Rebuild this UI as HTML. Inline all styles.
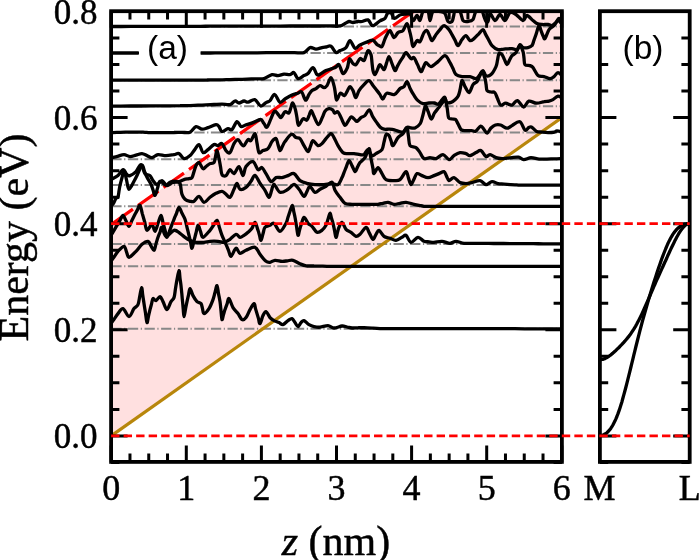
<!DOCTYPE html><html><head><meta charset="utf-8"><style>html,body{margin:0;padding:0;background:#fff;overflow:hidden}svg{display:block}</style></head><body><svg width="700" height="560" viewBox="0 0 700 560">
<rect width="700" height="560" fill="#fff"/>
<defs><clipPath id="ca"><rect x="111.1" y="11.2" width="450.79999999999995" height="450.7"/></clipPath><clipPath id="cb"><rect x="599.9" y="11.2" width="89.80000000000007" height="450.7"/></clipPath></defs>
<g clip-path="url(#ca)">
<polygon points="111.2,435.9 111.2,224.4 440.0,-7.4 570.0,-7.4 570.0,111.8" fill="#ffe0e0"/>
<line x1="111" y1="26.5" x2="562" y2="26.5" stroke="#888" stroke-width="2" stroke-dasharray="10.3,2.55,1.2,2.55" stroke-dashoffset="-0.3"/>
<line x1="111" y1="53.0" x2="562" y2="53.0" stroke="#888" stroke-width="2" stroke-dasharray="10.3,2.55,1.2,2.55" stroke-dashoffset="-0.3"/>
<line x1="111" y1="80.2" x2="562" y2="80.2" stroke="#888" stroke-width="2" stroke-dasharray="10.3,2.55,1.2,2.55" stroke-dashoffset="-0.3"/>
<line x1="111" y1="106.2" x2="562" y2="106.2" stroke="#888" stroke-width="2" stroke-dasharray="10.3,2.55,1.2,2.55" stroke-dashoffset="-0.3"/>
<line x1="111" y1="132.6" x2="562" y2="132.6" stroke="#888" stroke-width="2" stroke-dasharray="10.3,2.55,1.2,2.55" stroke-dashoffset="-0.3"/>
<line x1="111" y1="159.3" x2="562" y2="159.3" stroke="#888" stroke-width="2" stroke-dasharray="10.3,2.55,1.2,2.55" stroke-dashoffset="-0.3"/>
<line x1="111" y1="185.1" x2="562" y2="185.1" stroke="#888" stroke-width="2" stroke-dasharray="10.3,2.55,1.2,2.55" stroke-dashoffset="-0.3"/>
<line x1="111" y1="206.3" x2="562" y2="206.3" stroke="#888" stroke-width="2" stroke-dasharray="10.3,2.55,1.2,2.55" stroke-dashoffset="-0.3"/>
<line x1="111" y1="243.9" x2="562" y2="243.9" stroke="#888" stroke-width="2" stroke-dasharray="10.3,2.55,1.2,2.55" stroke-dashoffset="-0.3"/>
<line x1="111" y1="266.3" x2="562" y2="266.3" stroke="#888" stroke-width="2" stroke-dasharray="10.3,2.55,1.2,2.55" stroke-dashoffset="-0.3"/>
<line x1="111" y1="328.8" x2="562" y2="328.8" stroke="#888" stroke-width="2" stroke-dasharray="10.3,2.55,1.2,2.55" stroke-dashoffset="-0.3"/>
<line x1="111.2" y1="224.4" x2="440" y2="-7.40" stroke="#ff0000" stroke-width="3.2" stroke-dasharray="25,6.2" stroke-dashoffset="-1.6"/>
<line x1="111.2" y1="435.9" x2="565.555" y2="114.94749999999999" stroke="#b8860b" stroke-width="3.2"/>
<path d="M111.0,26.5C112.7,26.5 117.6,26.5 121.0,26.5C124.3,26.5 127.6,26.5 130.9,26.4C134.2,26.4 137.6,26.4 140.9,26.4C144.2,26.4 147.5,26.4 150.8,26.4C154.1,26.4 157.5,26.4 160.8,26.4C164.1,26.4 167.4,26.4 170.7,26.3C174.1,26.3 177.4,26.3 180.7,26.3C184.0,26.3 187.3,26.3 190.7,26.3C194.0,26.3 197.3,26.3 200.6,26.3C203.9,26.3 207.2,26.2 210.6,26.2C213.9,26.2 217.2,26.2 220.5,26.2C223.8,26.2 227.2,26.2 230.5,26.2C233.8,26.2 237.1,26.2 240.4,26.2C243.8,26.2 247.1,26.1 250.4,26.1C253.7,26.1 257.0,26.1 260.3,26.1C263.7,26.1 267.0,26.1 270.3,26.1C273.6,26.1 276.9,26.1 280.3,26.1C283.6,26.0 286.9,26.0 290.2,26.0C293.5,26.0 296.9,26.0 300.2,26.0C303.5,26.0 306.8,26.0 310.1,26.0C313.4,26.0 316.8,26.0 320.1,26.0C323.4,25.9 326.7,25.9 330.0,25.9C333.4,25.9 337.5,26.3 340.0,25.9C342.5,25.5 343.5,24.2 345.0,23.5C346.5,22.8 347.7,21.7 349.0,21.5C350.3,21.3 351.5,22.5 353.0,22.5C354.5,22.5 356.5,21.7 358.0,21.5C359.5,21.3 360.3,21.8 362.0,21.5C363.7,21.2 366.3,19.2 368.0,19.9C369.7,20.6 370.7,24.8 372.0,25.5C373.3,26.2 374.7,24.8 376.0,24.0C377.3,23.2 378.5,21.8 380.0,20.9C381.5,19.9 383.7,19.6 385.0,18.3C386.3,17.0 386.6,14.0 387.7,13.2C388.8,12.3 390.2,12.3 391.3,13.2C392.4,14.0 392.8,18.1 394.4,18.3C395.9,18.6 398.2,15.5 400.6,14.7C403.0,13.9 407.3,14.2 408.9,13.7C410.5,13.2 409.3,10.4 410.0,11.5C410.7,12.6 411.8,19.8 413.0,20.5C414.2,21.2 415.8,15.5 417.0,15.5C418.2,15.5 419.0,21.2 420.0,20.5C421.0,19.8 421.7,13.0 423.0,11.5C424.3,10.0 426.8,10.0 428.0,11.5C429.2,13.0 429.2,20.5 430.0,20.5C430.8,20.5 431.3,13.0 433.0,11.5C434.7,10.0 438.0,11.2 440.0,11.5C442.0,11.8 443.7,11.8 445.0,13.5C446.3,15.2 446.8,20.2 448.0,21.5C449.2,22.8 451.1,22.3 452.0,21.5C452.9,20.7 453.0,18.2 453.5,16.5C454.0,14.8 453.9,12.3 455.0,11.5C456.1,10.7 458.7,10.0 460.0,11.5C461.3,13.0 461.7,18.8 463.0,20.5C464.3,22.2 466.3,21.7 468.0,21.5C469.7,21.3 471.7,21.2 473.0,19.5C474.3,17.8 474.5,12.8 476.0,11.5C477.5,10.2 480.7,10.7 482.0,11.5C483.3,12.3 483.3,14.8 484.0,16.5C484.7,18.2 485.3,20.7 486.0,21.5C486.7,22.3 487.3,22.8 488.0,21.5C488.7,20.2 488.8,13.7 490.0,13.5C491.2,13.3 493.3,20.3 495.0,20.5C496.7,20.7 498.3,14.5 500.0,14.5C501.7,14.5 503.3,20.8 505.0,20.5C506.7,20.2 508.2,13.5 510.0,12.5C511.8,11.5 513.8,13.2 516.0,14.5C518.2,15.8 521.2,20.3 523.0,20.5C524.8,20.7 525.3,15.5 527.0,15.5C528.7,15.5 531.3,19.2 533.0,20.5C534.7,21.8 535.5,22.8 537.0,23.5C538.5,24.2 540.2,24.3 542.0,24.5C543.8,24.7 546.3,24.3 548.0,24.5C549.7,24.7 550.7,25.8 552.0,25.5C553.3,25.2 554.8,23.7 556.0,22.5C557.2,21.3 557.8,18.3 559.0,18.5C560.2,18.7 562.3,22.7 563.0,23.5" fill="none" stroke="#000" stroke-width="3.3" stroke-linejoin="round" stroke-linecap="round"/>
<path d="M111.0,53.0C112.5,53.0 117.0,53.0 120.0,53.0C123.0,53.0 126.0,53.0 129.0,53.0C132.0,53.0 136.5,53.0 138.0,53.0" fill="none" stroke="#000" stroke-width="3.3" stroke-linejoin="round" stroke-linecap="round"/>
<path d="M201.0,53.0C202.6,53.0 207.2,53.0 210.4,53.0C213.5,53.0 216.6,52.9 219.7,52.9C222.8,52.9 226.0,52.9 229.1,52.9C232.2,52.9 235.3,52.9 238.5,52.9C241.6,52.8 244.7,52.8 247.8,52.8C250.9,52.8 254.1,52.8 257.2,52.8C260.3,52.8 263.4,52.8 266.5,52.7C269.7,52.7 272.8,52.7 275.9,52.7C279.0,52.7 282.2,52.7 285.3,52.7C288.4,52.7 291.5,52.6 294.6,52.6C297.8,52.6 301.4,53.4 304.0,52.6C306.6,51.8 308.0,48.2 310.0,47.6C312.0,47.0 314.0,49.1 316.0,49.1C318.0,49.1 320.3,48.0 322.0,47.6C323.7,47.2 324.5,47.2 326.0,47.0C327.5,46.8 329.3,45.3 331.0,46.2C332.7,47.1 334.5,51.9 336.0,52.6C337.5,53.3 338.3,51.4 340.0,50.6C341.7,49.8 344.3,49.3 346.0,47.6C347.7,45.9 348.5,40.5 350.0,40.6C351.5,40.7 353.3,47.5 355.0,48.2C356.7,48.9 357.8,46.1 360.0,45.0C362.2,43.9 365.8,42.4 368.0,41.6C370.2,40.8 371.5,39.7 373.0,40.2C374.5,40.7 376.0,43.7 377.0,44.6C378.0,45.5 378.2,45.3 379.0,45.6C379.8,45.9 381.2,47.3 382.0,46.6C382.8,45.9 383.3,43.3 384.0,41.6C384.7,39.9 385.0,38.4 386.0,36.6C387.0,34.8 388.7,30.4 390.0,30.6C391.3,30.8 392.7,37.3 394.0,37.6C395.3,37.9 396.5,33.8 398.0,32.6C399.5,31.4 401.5,32.1 403.0,30.6C404.5,29.1 405.8,23.3 407.0,23.6C408.2,23.9 409.2,29.9 410.0,32.6C410.8,35.3 411.0,37.3 411.5,39.6C412.0,41.9 412.1,46.4 413.0,46.6C413.9,46.8 415.8,41.4 417.0,40.6C418.2,39.8 418.8,42.9 420.0,41.6C421.2,40.3 422.8,34.4 424.0,32.6C425.2,30.8 426.1,30.1 427.0,30.6C427.9,31.1 428.7,33.9 429.5,35.6C430.3,37.3 430.9,40.8 432.0,40.6C433.1,40.4 434.7,36.4 436.0,34.6C437.3,32.8 438.7,31.1 440.0,29.6C441.3,28.1 442.5,25.6 444.0,25.6C445.5,25.6 447.7,28.1 449.0,29.6C450.3,31.1 451.0,32.9 452.0,34.6C453.0,36.4 454.0,38.3 455.0,40.1C456.0,41.9 456.8,45.7 458.0,45.6C459.2,45.5 460.7,41.3 462.0,39.6C463.3,37.9 464.7,35.4 466.0,35.6C467.3,35.8 468.7,40.1 470.0,40.6C471.3,41.1 472.5,39.8 474.0,38.6C475.5,37.4 477.5,35.1 479.0,33.6C480.5,32.1 481.9,29.5 483.0,29.6C484.1,29.7 484.7,32.6 485.5,34.1C486.3,35.6 486.9,36.7 488.0,38.6C489.1,40.5 490.3,43.8 492.0,45.6C493.7,47.4 496.0,49.0 498.0,49.6C500.0,50.2 501.7,49.3 504.0,49.1C506.3,48.9 509.8,48.5 512.0,48.6C514.2,48.7 515.7,50.3 517.0,49.6C518.3,48.9 519.0,44.9 520.0,44.6C521.0,44.3 521.7,47.1 523.0,47.6C524.3,48.1 526.5,47.9 528.0,47.6C529.5,47.3 531.0,46.9 532.0,45.6C533.0,44.4 533.3,41.9 534.0,40.1C534.7,38.3 535.2,37.0 536.0,34.6C536.8,32.2 538.2,26.3 539.0,25.6C539.8,24.9 540.3,28.9 541.0,30.6C541.7,32.3 542.3,34.3 543.0,35.6C543.7,36.9 544.0,39.6 545.0,38.6C546.0,37.6 547.5,31.8 549.0,29.6C550.5,27.4 552.5,27.1 554.0,25.6C555.5,24.1 556.5,20.6 558.0,20.6C559.5,20.6 562.2,24.8 563.0,25.6" fill="none" stroke="#000" stroke-width="3.3" stroke-linejoin="round" stroke-linecap="round"/>
<path d="M111.0,80.2C112.6,80.2 117.6,80.2 120.9,80.2C124.2,80.2 127.5,80.2 130.8,80.2C134.1,80.2 137.4,80.2 140.7,80.2C144.0,80.2 147.3,80.2 150.6,80.2C153.9,80.2 157.1,80.2 160.4,80.2C163.7,80.2 167.0,80.2 170.3,80.2C173.6,80.2 176.9,80.2 180.2,80.2C183.5,80.2 186.8,80.2 190.1,80.2C193.4,80.2 197.1,80.2 200.0,80.2C202.9,80.2 205.0,80.1 207.5,80.0C210.0,80.0 212.5,79.9 215.0,79.9C217.5,79.8 220.0,79.8 222.5,79.8C225.0,79.7 227.3,79.7 230.0,79.6C232.7,79.5 235.7,79.4 238.5,79.3C241.3,79.3 244.2,79.2 247.0,79.1C249.8,79.0 252.7,78.9 255.5,78.8C258.3,78.8 261.2,79.3 264.0,78.6C266.8,77.9 269.7,75.1 272.0,74.6C274.3,74.1 276.0,75.7 278.0,75.6C280.0,75.5 282.0,74.4 284.0,74.2C286.0,74.0 288.3,74.9 290.0,74.6C291.7,74.3 292.7,71.9 294.0,72.6C295.3,73.3 296.3,78.1 298.0,78.6C299.7,79.1 302.3,76.4 304.0,75.6C305.7,74.8 306.5,74.9 308.0,73.6C309.5,72.3 311.5,67.4 313.0,67.6C314.5,67.8 315.8,73.5 317.0,74.6C318.2,75.7 318.5,74.9 320.0,74.2C321.5,73.5 324.0,71.5 326.0,70.6C328.0,69.7 330.3,69.2 332.0,68.6C333.7,68.0 334.8,67.7 336.0,67.0C337.2,66.3 337.8,63.5 339.0,64.6C340.2,65.7 341.7,72.9 343.0,73.6C344.3,74.3 346.1,70.3 347.0,68.6C347.9,66.9 347.9,65.3 348.3,63.6C348.7,61.9 348.8,58.6 349.6,58.6C350.4,58.6 351.9,62.6 353.0,63.6C354.1,64.6 354.8,65.4 356.0,64.6C357.2,63.8 358.7,59.3 360.0,58.6C361.3,57.9 363.0,61.1 364.0,60.6C365.0,60.1 365.3,57.3 366.0,55.6C366.7,53.9 367.2,50.8 368.0,50.6C368.8,50.4 370.3,52.6 371.0,54.6C371.7,56.6 371.7,59.9 372.0,62.6C372.3,65.3 372.5,68.6 373.0,70.6C373.5,72.6 374.2,74.8 375.0,74.6C375.8,74.4 376.7,71.3 377.5,69.6C378.3,67.9 378.9,64.6 380.0,64.6C381.1,64.6 382.9,69.8 384.0,69.6C385.1,69.3 385.7,65.3 386.5,63.1C387.3,60.9 388.1,56.5 389.0,56.6C389.9,56.7 391.0,61.3 392.0,63.6C393.0,65.9 394.1,70.2 395.0,70.6C395.9,71.0 396.7,67.6 397.5,66.1C398.3,64.6 399.1,63.1 400.0,61.6C400.9,60.1 402.0,58.6 403.0,57.1C404.0,55.6 404.7,52.4 406.0,52.6C407.3,52.9 409.7,57.8 411.0,58.6C412.3,59.4 412.9,56.6 414.0,57.6C415.1,58.6 416.3,62.3 417.5,64.6C418.7,66.9 420.0,71.2 421.0,71.6C422.0,72.0 422.7,68.6 423.5,67.1C424.3,65.6 424.8,62.7 426.0,62.6C427.2,62.5 429.0,66.8 431.0,66.6C433.0,66.4 435.7,63.4 438.0,61.6C440.3,59.8 443.0,55.4 445.0,55.6C447.0,55.8 448.7,60.4 450.0,62.6C451.3,64.8 452.0,66.6 453.0,68.6C454.0,70.6 454.5,73.3 456.0,74.6C457.5,75.9 459.7,76.3 462.0,76.6C464.3,76.9 467.7,76.3 470.0,76.6C472.3,76.9 474.3,78.9 476.0,78.6C477.7,78.3 478.8,75.9 480.0,74.6C481.2,73.3 482.0,70.4 483.0,70.6C484.0,70.8 484.7,74.9 486.0,75.6C487.3,76.3 489.3,76.1 491.0,74.6C492.7,73.1 494.9,69.0 496.0,66.6C497.1,64.2 497.0,62.3 497.5,60.1C498.0,57.9 498.2,54.5 499.0,53.6C499.8,52.7 501.1,53.6 502.0,54.6C502.9,55.6 503.7,57.9 504.5,59.6C505.3,61.3 506.2,64.5 507.0,64.6C507.8,64.7 508.7,61.6 509.5,60.1C510.3,58.6 510.9,56.9 512.0,55.6C513.1,54.4 514.7,54.3 516.0,52.6C517.3,50.9 518.8,45.8 520.0,45.6C521.2,45.4 522.3,49.5 523.0,51.6C523.7,53.7 523.7,55.9 524.0,58.1C524.3,60.3 524.0,63.3 525.0,64.6C526.0,65.8 528.7,65.1 530.0,65.6C531.3,66.1 531.7,65.9 533.0,67.6C534.3,69.3 536.2,74.1 538.0,75.6C539.8,77.1 542.0,76.1 544.0,76.6C546.0,77.1 548.3,78.6 550.0,78.6C551.7,78.6 552.7,77.6 554.0,76.6C555.3,75.6 556.5,72.6 558.0,72.6C559.5,72.6 562.2,75.9 563.0,76.6" fill="none" stroke="#000" stroke-width="3.3" stroke-linejoin="round" stroke-linecap="round"/>
<path d="M111.0,106.2C112.6,106.2 117.6,106.1 120.9,106.1C124.2,106.1 127.5,106.1 130.8,106.0C134.0,106.0 137.3,106.0 140.6,106.0C143.9,105.9 147.2,105.9 150.5,105.9C153.8,105.9 157.1,105.8 160.4,105.8C163.7,105.8 167.0,105.8 170.2,105.8C173.5,105.7 176.8,105.7 180.1,105.7C183.4,105.6 187.0,105.7 190.0,105.6C193.0,105.5 195.3,105.4 198.0,105.2C200.7,105.1 203.3,105.0 206.0,104.9C208.7,104.8 211.3,104.7 214.0,104.5C216.7,104.4 219.3,104.2 222.0,104.2C224.7,104.2 227.8,105.1 230.0,104.6C232.2,104.1 233.5,101.3 235.0,101.0C236.5,100.7 237.5,103.0 239.0,103.0C240.5,103.0 242.5,101.1 244.0,101.0C245.5,100.9 246.2,102.4 248.0,102.2C249.8,102.0 252.7,99.0 254.8,99.6C256.9,100.2 258.7,105.5 260.6,106.0C262.5,106.5 264.4,103.5 266.0,102.6C267.6,101.7 268.6,101.9 270.0,100.6C271.4,99.2 273.1,94.2 274.7,94.5C276.3,94.8 278.1,101.4 279.8,102.2C281.5,102.9 283.1,100.1 285.0,99.0C286.9,97.9 288.9,96.6 291.0,95.6C293.1,94.6 296.0,93.8 297.8,93.2C299.6,92.6 300.4,90.7 301.7,91.9C303.0,93.1 304.4,99.8 305.6,100.2C306.8,100.6 307.9,96.1 309.0,94.5C310.1,92.9 310.8,91.6 312.0,90.6C313.2,89.6 314.7,89.4 316.0,88.6C317.3,87.8 318.7,85.8 320.0,85.6C321.3,85.4 322.8,87.6 324.0,87.6C325.2,87.6 325.8,87.3 327.0,85.6C328.2,83.9 329.8,77.6 331.0,77.6C332.2,77.6 333.3,83.0 334.0,85.6C334.7,88.1 334.9,90.5 335.3,92.9C335.7,95.3 335.8,100.1 336.6,100.2C337.5,100.2 339.1,94.0 340.4,93.2C341.7,92.4 343.1,96.0 344.3,95.6C345.5,95.2 346.6,92.1 347.5,90.6C348.4,89.1 349.1,86.6 350.0,86.6C350.9,86.6 352.0,88.8 353.0,90.6C354.0,92.4 354.8,97.6 355.8,97.6C356.8,97.6 357.6,92.8 359.0,90.6C360.4,88.4 362.3,86.3 364.0,84.6C365.7,82.9 367.5,80.4 369.0,80.6C370.5,80.8 371.7,83.9 373.0,85.6C374.3,87.3 375.8,89.1 377.0,90.6C378.2,92.1 379.0,93.2 380.0,94.6C381.0,96.0 381.7,99.2 382.8,99.0C383.9,98.8 384.8,93.9 386.7,93.2C388.6,92.4 392.2,95.3 394.4,94.5C396.6,93.7 398.4,89.9 400.0,88.6C401.6,87.3 402.8,87.8 404.0,86.6C405.2,85.4 406.0,81.3 407.0,81.6C408.0,81.9 408.9,85.9 410.0,88.2C411.1,90.5 412.6,93.2 413.9,95.2C415.2,97.2 416.2,99.0 417.7,100.4C419.2,101.8 421.0,103.2 422.9,103.6C424.8,104.0 427.1,103.1 429.0,103.0C430.9,102.9 432.8,102.8 434.4,103.0C435.9,103.2 437.0,104.7 438.3,104.2C439.6,103.6 441.0,100.9 442.1,99.7C443.2,98.5 443.9,96.8 444.7,97.2C445.4,97.6 445.5,101.4 446.6,102.3C447.7,103.2 449.7,102.7 451.1,102.3C452.5,101.9 453.8,100.8 455.0,99.7C456.2,98.6 457.3,97.6 458.2,95.9C459.1,94.2 459.5,92.0 460.1,89.5C460.7,87.0 461.2,81.1 462.0,80.6C462.8,80.1 463.8,84.6 465.0,86.6C466.2,88.6 467.8,92.9 469.1,92.6C470.4,92.3 471.7,86.4 473.0,84.6C474.3,82.8 475.9,82.9 477.0,81.6C478.1,80.3 478.7,78.3 479.5,76.6C480.3,74.9 481.1,71.3 482.0,71.6C482.9,71.9 484.3,76.4 485.0,78.6C485.7,80.8 485.7,82.6 486.1,84.6C486.4,86.7 486.3,89.5 487.1,90.7C487.9,91.9 489.7,91.7 491.0,92.0C492.3,92.3 493.7,91.5 494.8,92.6C495.9,93.6 496.4,96.2 497.4,98.3C498.4,100.4 499.2,104.3 500.6,105.1C502.0,105.9 503.8,103.2 505.7,103.2C507.6,103.2 510.1,105.5 512.0,105.1C513.9,104.7 515.3,100.3 517.3,100.6C519.2,100.9 521.8,106.9 523.7,107.0C525.6,107.1 526.6,101.8 528.8,101.2C530.9,100.6 534.0,103.1 536.6,103.2C539.2,103.3 542.2,101.9 544.3,101.6C546.4,101.2 547.5,101.4 549.0,101.1C550.5,100.8 551.5,100.4 553.0,99.6C554.5,98.8 556.3,96.3 558.0,96.1C559.7,95.9 562.2,98.2 563.0,98.6" fill="none" stroke="#000" stroke-width="3.3" stroke-linejoin="round" stroke-linecap="round"/>
<path d="M111.0,132.6C112.6,132.6 117.3,132.4 120.5,132.3C123.7,132.3 126.8,132.1 130.0,132.1C133.2,132.1 137.5,132.1 140.0,132.1C142.5,132.1 143.3,132.3 145.0,132.3C146.7,132.4 147.8,132.6 150.0,132.6C152.2,132.6 155.3,132.6 158.0,132.6C160.7,132.6 163.3,132.6 166.0,132.6C168.7,132.6 171.3,132.5 174.0,132.5C176.7,132.4 179.3,132.4 182.0,132.3C184.7,132.3 187.7,133.2 190.0,132.2C192.3,131.2 194.0,127.1 196.0,126.6C198.0,126.1 200.0,129.0 202.0,129.2C204.0,129.4 205.7,128.4 208.0,127.6C210.3,126.8 214.2,124.8 216.0,124.6C217.8,124.4 218.0,125.4 219.0,126.6C220.0,127.8 220.5,131.3 222.0,131.6C223.5,131.9 226.3,128.9 228.0,128.6C229.7,128.3 230.5,130.8 232.0,129.6C233.5,128.4 235.5,122.1 237.0,121.6C238.5,121.1 239.7,126.0 241.0,126.6C242.3,127.2 243.0,126.0 245.0,125.3C247.0,124.6 250.4,123.6 253.0,122.6C255.6,121.6 258.8,119.4 260.6,119.5C262.4,119.6 262.7,122.1 263.8,123.3C264.9,124.6 265.8,128.0 267.0,127.2C268.2,126.4 269.7,121.3 271.0,118.6C272.3,115.9 273.4,111.8 274.7,111.2C276.0,110.6 277.6,113.9 278.6,115.0C279.7,116.1 279.9,118.1 281.0,117.6C282.1,117.1 283.7,112.5 285.0,111.8C286.3,111.0 287.8,113.7 288.8,113.1C289.8,112.5 290.1,109.7 290.8,107.9C291.4,106.2 291.9,102.6 292.7,102.8C293.5,103.0 294.6,106.8 295.3,109.2C296.0,111.6 296.4,114.6 296.9,117.2C297.4,119.9 297.5,125.0 298.5,125.3C299.5,125.6 301.6,119.8 303.0,118.9C304.4,118.0 305.8,120.8 306.8,120.2C307.8,119.6 308.3,117.0 309.1,115.4C309.8,113.8 310.5,110.4 311.3,110.6C312.1,110.8 312.8,114.0 314.0,116.3C315.2,118.6 317.0,124.4 318.4,124.6C319.8,124.8 321.2,119.8 322.3,117.6C323.4,115.4 323.9,112.7 325.0,111.2C326.1,109.7 327.6,108.8 328.9,108.6C330.2,108.4 331.8,109.1 332.7,109.9C333.6,110.6 333.7,112.8 334.6,113.1C335.5,113.4 336.8,111.0 337.9,111.8C339.0,112.5 339.8,115.3 341.0,117.6C342.2,119.8 343.7,124.7 344.9,125.3C346.1,125.9 346.9,122.8 348.0,121.4C349.1,120.0 350.2,117.2 351.3,116.9C352.4,116.6 353.6,118.8 354.6,119.5C355.6,120.2 356.0,121.7 357.1,121.4C358.2,121.1 359.7,118.6 361.0,117.6C362.3,116.6 363.4,116.9 364.8,115.6C366.2,114.3 368.0,109.8 369.3,109.9C370.6,110.0 371.4,114.3 372.6,116.3C373.8,118.3 375.1,120.3 376.4,122.1C377.7,123.9 379.0,126.0 380.3,127.2C381.6,128.4 382.6,128.9 384.1,129.2C385.6,129.5 387.6,129.1 389.3,129.2C391.0,129.3 392.7,129.4 394.4,129.8C396.1,130.2 398.1,131.4 399.6,131.7C401.1,132.0 402.1,132.4 403.4,131.7C404.7,130.9 406.0,127.8 407.3,127.2C408.6,126.6 409.7,127.8 411.0,127.9C412.3,128.0 413.4,128.6 415.0,127.9C416.6,127.2 419.0,125.6 420.3,123.5C421.6,121.4 422.0,118.1 422.9,115.2C423.8,112.3 424.5,106.8 425.4,106.2C426.2,105.5 427.0,109.2 428.0,111.3C429.0,113.4 430.1,118.7 431.2,119.0C432.3,119.3 433.2,115.0 434.4,113.2C435.6,111.4 436.9,109.9 438.3,108.1C439.7,106.3 441.6,103.9 442.8,102.3C444.0,100.7 444.7,98.3 445.3,98.5C445.9,98.7 446.0,101.9 446.3,103.6C446.6,105.3 446.9,106.3 447.3,108.7C447.7,111.0 447.8,116.0 448.6,117.7C449.5,119.4 451.2,118.7 452.4,119.0C453.6,119.3 454.6,118.7 455.6,119.6C456.6,120.5 457.2,122.5 458.2,124.2C459.2,125.9 460.0,128.8 461.4,129.9C462.8,131.0 464.9,130.5 466.6,130.6C468.3,130.7 470.2,130.5 471.7,130.6C473.2,130.7 474.1,131.9 475.6,131.2C477.1,130.4 479.3,126.4 480.7,126.1C482.1,125.8 482.8,128.1 483.9,129.3C485.0,130.5 485.9,133.4 487.1,133.2C488.3,133.0 489.6,129.4 491.0,128.0C492.4,126.6 493.8,125.5 495.4,125.0C497.0,124.5 498.7,124.5 500.6,125.0C502.5,125.5 505.1,128.1 507.0,128.2C508.9,128.3 509.9,126.7 512.0,125.6C514.1,124.5 517.6,121.0 519.8,121.8C522.0,122.6 523.5,129.2 525.0,130.2C526.5,131.2 527.7,128.1 528.8,127.6C529.9,127.1 530.1,126.4 531.4,127.0C532.7,127.6 534.9,130.6 536.6,131.4C538.3,132.2 539.8,131.9 541.7,132.1C543.6,132.3 545.9,132.6 548.0,132.6C550.1,132.6 553.1,132.4 554.6,132.1C556.1,131.8 555.6,130.8 557.0,130.8C558.4,130.8 562.0,131.9 563.0,132.1" fill="none" stroke="#000" stroke-width="3.3" stroke-linejoin="round" stroke-linecap="round"/>
<path d="M111.0,158.0C112.1,157.7 115.3,156.9 117.5,156.3C119.7,155.7 121.9,154.6 124.0,154.6C126.1,154.6 128.0,156.5 130.0,156.6C132.0,156.7 134.0,155.6 136.0,155.1C138.0,154.6 140.2,153.5 142.0,153.6C143.8,153.7 145.3,154.9 147.0,155.6C148.7,156.3 150.2,157.8 152.0,157.6C153.8,157.4 155.7,154.9 158.0,154.6C160.3,154.3 163.3,155.6 166.0,155.6C168.7,155.6 171.8,154.9 174.0,154.6C176.2,154.3 177.3,152.9 179.0,153.6C180.7,154.3 182.2,158.3 184.0,158.6C185.8,158.9 188.3,156.9 190.0,155.6C191.7,154.3 192.5,152.4 194.0,150.6C195.5,148.8 197.5,144.3 199.0,144.6C200.5,144.9 201.5,151.8 203.0,152.6C204.5,153.4 206.2,150.9 208.0,149.6C209.8,148.3 212.3,145.3 214.0,144.6C215.7,143.9 216.7,145.8 218.0,145.6C219.3,145.4 220.7,142.8 222.0,143.6C223.3,144.4 224.7,149.1 226.0,150.6C227.3,152.1 228.7,153.8 230.0,152.6C231.3,151.4 232.7,145.8 234.0,143.6C235.3,141.4 236.8,139.6 238.0,139.6C239.2,139.6 240.0,142.6 241.0,143.6C242.0,144.6 242.8,146.3 244.0,145.6C245.2,144.9 246.8,140.4 248.0,139.6C249.2,138.8 249.8,141.6 251.0,140.6C252.2,139.6 254.0,133.2 255.0,133.6C256.0,134.0 256.3,139.9 257.0,143.1C257.7,146.3 258.0,151.3 259.0,152.6C260.0,153.8 261.5,151.3 263.0,150.6C264.5,149.9 266.5,150.1 268.0,148.6C269.5,147.1 270.7,143.3 272.0,141.6C273.3,139.9 275.0,138.1 276.0,138.6C277.0,139.1 277.3,142.6 278.0,144.6C278.7,146.6 279.2,150.3 280.0,150.6C280.8,150.8 281.7,147.6 282.5,146.1C283.3,144.6 283.5,143.6 285.0,141.6C286.5,139.6 289.6,135.0 291.4,134.3C293.2,133.6 294.6,136.9 296.0,137.6C297.4,138.3 298.7,137.3 300.0,138.6C301.3,139.9 302.7,143.4 304.0,145.6C305.3,147.8 306.9,151.5 308.0,151.6C309.1,151.7 309.7,147.9 310.5,146.1C311.3,144.3 311.8,140.7 313.0,140.6C314.2,140.5 316.5,145.1 318.0,145.6C319.5,146.1 320.7,144.8 322.0,143.6C323.3,142.4 324.5,140.3 326.0,138.6C327.5,136.9 329.7,133.8 331.0,133.6C332.3,133.4 332.8,135.6 334.0,137.6C335.2,139.6 336.5,143.1 338.0,145.6C339.5,148.1 341.3,151.3 343.0,152.6C344.7,153.9 346.2,153.4 348.0,153.6C349.8,153.8 352.0,153.4 354.0,153.6C356.0,153.8 358.3,154.4 360.0,154.6C361.7,154.8 362.7,155.4 364.0,154.6C365.3,153.8 366.7,149.4 368.0,149.6C369.3,149.8 370.7,154.9 372.0,155.6C373.3,156.3 374.3,154.6 376.0,153.6C377.7,152.6 380.7,151.5 382.0,149.6C383.3,147.7 383.3,144.6 384.0,142.1C384.7,139.6 385.2,135.7 386.0,134.6C386.8,133.5 388.2,134.6 389.0,135.6C389.8,136.6 390.3,138.9 391.0,140.6C391.7,142.3 391.8,146.1 393.0,145.6C394.2,145.1 396.3,139.6 398.0,137.6C399.7,135.6 401.5,135.3 403.0,133.6C404.5,131.9 406.1,127.1 407.0,127.6C407.9,128.1 408.0,133.6 408.5,136.6C409.0,139.6 408.8,143.8 410.0,145.6C411.2,147.4 414.3,146.4 416.0,147.6C417.7,148.8 418.7,150.8 420.0,152.6C421.3,154.4 422.3,157.8 424.0,158.6C425.7,159.4 428.0,157.6 430.0,157.6C432.0,157.6 433.8,159.1 436.0,158.6C438.2,158.1 440.8,154.4 443.0,154.6C445.2,154.8 447.2,159.4 449.0,159.6C450.8,159.8 452.2,156.8 454.0,155.6C455.8,154.4 458.0,152.9 460.0,152.6C462.0,152.3 464.3,153.1 466.0,153.6C467.7,154.1 468.3,155.8 470.0,155.6C471.7,155.4 474.2,153.4 476.0,152.6C477.8,151.8 479.3,149.9 481.0,150.6C482.7,151.3 484.5,155.9 486.0,156.6C487.5,157.3 488.3,154.4 490.0,154.6C491.7,154.8 494.0,156.9 496.0,157.6C498.0,158.3 500.2,158.5 502.0,158.6C503.8,158.7 505.3,158.3 507.0,158.1C508.7,157.9 510.1,157.8 512.0,157.6C513.9,157.4 516.6,156.9 518.6,157.2C520.6,157.5 521.6,159.5 523.7,159.6C525.8,159.7 528.5,157.7 531.0,157.6C533.5,157.5 536.3,158.8 539.0,159.1C541.7,159.3 544.3,159.2 547.0,159.1C549.7,159.0 552.3,158.9 555.0,158.8C557.7,158.6 561.7,158.5 563.0,158.4" fill="none" stroke="#000" stroke-width="3.3" stroke-linejoin="round" stroke-linecap="round"/>
<path d="M111.0,179.6C112.2,178.9 116.0,177.3 118.0,175.6C120.0,173.9 121.5,169.8 123.0,169.6C124.5,169.4 125.8,173.6 127.0,174.6C128.2,175.6 128.5,176.1 130.0,175.6C131.5,175.1 134.2,173.4 136.0,171.6C137.8,169.8 139.5,164.3 141.0,164.6C142.5,164.9 143.5,171.8 145.0,173.6C146.5,175.4 148.7,174.4 150.0,175.6C151.3,176.8 151.8,179.1 153.0,180.6C154.2,182.1 155.5,184.6 157.0,184.6C158.5,184.6 160.3,180.4 162.0,180.6C163.7,180.8 165.3,185.3 167.0,185.6C168.7,185.9 170.0,183.3 172.0,182.6C174.0,181.9 177.0,182.1 179.0,181.6C181.0,181.1 182.3,180.1 184.0,179.6C185.7,179.1 187.7,178.9 189.0,178.6C190.3,178.3 191.2,178.8 192.0,177.6C192.8,176.4 193.3,173.6 194.0,171.6C194.7,169.6 195.2,167.1 196.0,165.6C196.8,164.1 197.8,162.1 199.0,162.6C200.2,163.1 201.8,167.9 203.0,168.6C204.2,169.3 204.8,167.4 206.0,166.6C207.2,165.8 208.7,164.3 210.0,163.6C211.3,162.9 213.1,163.8 214.0,162.6C214.9,161.4 215.0,158.6 215.5,156.6C216.0,154.6 216.4,150.3 217.0,150.6C217.6,150.9 218.4,155.9 219.0,158.6C219.6,161.3 220.0,163.9 220.5,166.6C221.0,169.3 221.1,173.1 222.0,174.6C222.9,176.1 224.7,176.4 226.0,175.6C227.3,174.8 228.7,169.9 230.0,169.6C231.3,169.3 232.5,174.1 234.0,173.6C235.5,173.1 237.5,166.3 239.0,166.6C240.5,166.9 241.8,175.6 243.0,175.6C244.2,175.6 244.3,168.9 246.0,166.6C247.7,164.3 251.0,161.1 253.0,161.6C255.0,162.1 256.5,168.6 258.0,169.6C259.5,170.6 260.7,166.9 262.0,167.6C263.3,168.3 264.5,171.3 266.0,173.6C267.5,175.9 269.3,180.9 271.0,181.6C272.7,182.3 274.2,178.3 276.0,177.6C277.8,176.9 280.0,177.9 282.0,177.6C284.0,177.3 286.0,176.3 288.0,175.6C290.0,174.9 292.0,172.8 294.0,173.6C296.0,174.4 297.7,178.9 300.0,180.6C302.3,182.3 305.3,182.9 308.0,183.6C310.7,184.3 313.3,184.4 316.0,184.6C318.7,184.8 321.3,184.8 324.0,184.6C326.7,184.4 329.7,183.6 332.0,183.6C334.3,183.6 336.3,185.6 338.0,184.6C339.7,183.6 341.0,179.6 342.0,177.6C343.0,175.6 343.3,174.3 344.0,172.6C344.7,170.9 345.2,169.6 346.0,167.6C346.8,165.6 348.0,160.9 349.0,160.6C350.0,160.3 351.0,163.8 352.0,165.6C353.0,167.4 354.1,171.3 355.0,171.6C355.9,171.8 356.7,168.6 357.5,167.1C358.3,165.6 358.8,164.2 360.0,162.6C361.2,161.0 363.5,159.9 365.0,157.6C366.5,155.3 368.1,148.8 369.0,148.6C369.9,148.3 370.0,153.6 370.5,156.1C371.0,158.6 371.6,161.5 372.0,163.6C372.4,165.7 372.7,166.9 373.0,168.6C373.3,170.3 373.2,173.8 374.0,173.6C374.8,173.4 376.7,167.6 378.0,167.6C379.3,167.6 380.7,171.6 382.0,173.6C383.3,175.6 384.0,178.4 386.0,179.6C388.0,180.8 391.7,180.6 394.0,180.6C396.3,180.6 398.0,181.1 400.0,179.6C402.0,178.1 404.6,171.8 406.0,171.6C407.4,171.3 407.7,175.9 408.5,178.1C409.3,180.3 410.1,184.4 411.0,184.6C411.9,184.8 413.0,180.9 414.0,179.1C415.0,177.3 415.7,174.2 417.0,173.6C418.3,173.0 420.2,174.9 422.0,175.6C423.8,176.3 426.0,177.6 428.0,177.6C430.0,177.6 432.2,176.3 434.0,175.6C435.8,174.9 437.3,174.3 439.0,173.6C440.7,172.9 442.8,171.2 444.0,171.6C445.2,172.0 445.7,174.6 446.5,176.1C447.3,177.6 447.8,180.3 449.0,180.6C450.2,180.8 452.2,177.3 454.0,177.6C455.8,177.9 458.0,181.6 460.0,182.6C462.0,183.6 464.0,183.6 466.0,183.6C468.0,183.6 469.7,183.1 472.0,182.6C474.3,182.1 477.7,180.3 480.0,180.6C482.3,180.9 484.0,184.4 486.0,184.6C488.0,184.8 490.0,181.8 492.0,181.6C494.0,181.4 496.0,183.2 498.0,183.6C500.0,184.0 502.0,183.9 504.0,184.1C506.0,184.3 508.2,184.5 510.0,184.6C511.8,184.7 513.3,184.8 515.0,184.8C516.7,184.9 517.7,185.1 520.0,185.1C522.3,185.1 525.7,185.1 528.6,185.1C531.5,185.1 534.3,185.1 537.2,185.1C540.1,185.1 542.9,185.1 545.8,185.1C548.7,185.1 551.5,185.1 554.4,185.1C557.3,185.1 561.6,185.1 563.0,185.1" fill="none" stroke="#000" stroke-width="3.3" stroke-linejoin="round" stroke-linecap="round"/>
<path d="M111.0,205.8C111.4,205.4 112.7,204.6 113.5,203.3C114.3,202.1 115.2,199.4 116.0,198.3C116.8,197.2 117.5,198.0 118.0,196.8C118.5,195.6 118.7,193.0 119.0,191.1C119.3,189.1 119.5,187.5 120.0,185.3C120.5,183.1 121.3,180.3 122.0,177.8C122.7,175.3 123.2,170.0 124.0,170.3C124.8,170.6 125.7,176.6 126.5,179.8C127.3,183.0 127.8,189.1 129.0,189.3C130.2,189.6 132.5,184.0 134.0,181.3C135.5,178.6 136.7,176.0 138.0,173.3C139.3,170.6 140.9,165.6 142.0,165.3C143.1,165.0 143.7,169.3 144.5,171.3C145.3,173.3 145.9,175.1 147.0,177.3C148.1,179.5 150.0,182.2 151.0,184.3C152.0,186.4 152.3,188.0 153.0,189.8C153.7,191.6 154.2,195.6 155.0,195.3C155.8,195.1 156.7,190.6 157.5,188.3C158.3,186.0 158.6,181.8 160.0,181.3C161.4,180.8 164.3,185.1 166.0,185.3C167.7,185.5 168.3,183.0 170.0,182.3C171.7,181.6 174.3,181.1 176.0,181.3C177.7,181.5 179.2,182.1 180.0,183.3C180.8,184.6 180.7,187.0 181.0,188.8C181.3,190.6 181.3,192.6 182.0,194.3C182.7,196.1 183.7,198.1 185.0,199.3C186.3,200.5 188.5,201.0 190.0,201.3C191.5,201.6 192.5,202.1 194.0,201.3C195.5,200.5 197.3,196.1 199.0,196.3C200.7,196.5 202.2,202.1 204.0,202.3C205.8,202.5 208.0,198.8 210.0,197.3C212.0,195.8 214.0,194.3 216.0,193.3C218.0,192.3 220.3,191.1 222.0,191.3C223.7,191.5 224.7,193.3 226.0,194.3C227.3,195.3 228.7,198.1 230.0,197.3C231.3,196.5 232.8,191.6 234.0,189.3C235.2,187.0 236.0,183.3 237.0,183.3C238.0,183.3 238.5,188.6 240.0,189.3C241.5,190.0 244.2,188.6 246.0,187.3C247.8,186.0 249.5,183.3 251.0,181.3C252.5,179.3 253.5,175.0 255.0,175.3C256.5,175.6 258.3,180.8 260.0,183.3C261.7,185.8 263.5,188.0 265.0,190.3C266.5,192.6 267.9,197.2 269.0,197.3C270.1,197.4 270.7,193.0 271.5,190.8C272.3,188.6 272.6,184.1 274.0,184.3C275.4,184.6 277.7,191.5 280.0,192.3C282.3,193.1 285.7,190.6 288.0,189.3C290.3,188.0 292.2,184.3 294.0,184.3C295.8,184.3 297.3,187.3 299.0,189.3C300.7,191.3 302.7,196.0 304.0,196.3C305.3,196.6 306.0,193.0 307.0,191.3C308.0,189.6 308.7,186.1 310.0,186.3C311.3,186.5 313.3,191.8 315.0,192.3C316.7,192.8 318.2,190.3 320.0,189.3C321.8,188.3 324.0,187.5 326.0,186.3C328.0,185.1 330.5,181.6 332.0,182.3C333.5,183.0 333.7,187.8 335.0,190.3C336.3,192.8 338.3,195.1 340.0,197.3C341.7,199.5 343.0,202.1 345.0,203.3C347.0,204.5 349.5,204.1 352.0,204.3C354.5,204.5 357.0,204.3 360.0,204.3C363.0,204.3 367.0,204.3 370.0,204.3C373.0,204.3 375.8,204.5 378.0,204.3C380.2,204.1 381.3,203.6 383.0,203.3C384.7,203.0 386.2,202.1 388.0,202.3C389.8,202.5 392.0,204.1 394.0,204.3C396.0,204.5 398.0,203.6 400.0,203.3C402.0,203.0 403.7,202.1 406.0,202.3C408.3,202.5 411.8,203.8 414.0,204.3C416.2,204.8 417.3,205.0 419.0,205.3C420.7,205.6 421.5,206.1 424.0,206.3C426.5,206.5 430.6,206.3 433.9,206.3C437.2,206.3 440.5,206.3 443.9,206.3C447.2,206.3 450.5,206.3 453.8,206.3C457.1,206.3 460.4,206.3 463.7,206.3C467.0,206.3 470.3,206.3 473.6,206.3C477.0,206.3 480.3,206.3 483.6,206.3C486.9,206.3 490.2,206.3 493.5,206.3C496.8,206.3 500.1,206.3 503.4,206.3C506.7,206.3 510.0,206.3 513.4,206.3C516.7,206.3 520.0,206.3 523.3,206.3C526.6,206.3 529.9,206.3 533.2,206.3C536.5,206.3 539.8,206.3 543.1,206.3C546.5,206.3 549.8,206.3 553.1,206.3C556.4,206.3 561.3,206.3 563.0,206.3" fill="none" stroke="#000" stroke-width="3.3" stroke-linejoin="round" stroke-linecap="round"/>
<path d="M111.0,261.3C111.6,260.5 113.3,258.0 114.5,256.3C115.7,254.6 116.4,253.0 118.0,251.3C119.6,249.6 122.6,246.2 124.0,246.3C125.4,246.4 125.7,250.0 126.5,251.8C127.3,253.6 127.4,257.4 129.0,257.3C130.6,257.2 133.8,253.5 136.0,251.3C138.2,249.1 140.0,246.0 142.0,244.3C144.0,242.6 146.5,241.1 148.0,241.3C149.5,241.6 150.0,244.3 151.0,245.8C152.0,247.3 153.2,250.6 154.0,250.3C154.8,250.0 155.3,246.0 156.0,243.8C156.7,241.6 157.3,239.2 158.0,237.3C158.7,235.4 159.3,234.0 160.0,232.3C160.7,230.6 161.0,226.6 162.0,227.3C163.0,228.0 164.0,235.8 166.0,236.3C168.0,236.8 171.7,230.8 174.0,230.3C176.3,229.8 178.2,232.1 180.0,233.3C181.8,234.5 183.3,236.1 185.0,237.3C186.7,238.5 188.2,239.5 190.0,240.3C191.8,241.1 193.7,242.0 196.0,242.3C198.3,242.6 201.7,242.5 204.0,242.3C206.3,242.1 207.7,241.5 210.0,241.3C212.3,241.1 215.7,241.1 218.0,241.3C220.3,241.5 222.0,242.6 224.0,242.3C226.0,242.0 228.0,240.6 230.0,239.3C232.0,238.0 234.3,234.6 236.0,234.3C237.7,234.0 238.7,237.1 240.0,237.3C241.3,237.5 242.7,236.1 244.0,235.3C245.3,234.5 246.7,233.5 248.0,232.3C249.3,231.1 250.8,230.0 252.0,228.3C253.2,226.6 254.0,222.0 255.0,222.3C256.0,222.6 257.2,228.1 258.0,230.3C258.8,232.5 259.0,233.6 259.5,235.3C260.0,237.0 260.4,240.6 261.0,240.3C261.6,240.1 262.3,236.0 263.0,233.8C263.7,231.6 263.8,228.7 265.0,227.3C266.2,225.9 268.5,226.0 270.0,225.3C271.5,224.6 272.3,222.3 274.0,223.3C275.7,224.3 278.0,231.3 280.0,231.3C282.0,231.3 284.7,225.6 286.0,223.3C287.3,221.0 287.3,219.3 288.0,217.3C288.7,215.3 289.3,213.3 290.0,211.3C290.7,209.3 291.8,205.3 292.4,205.3C293.0,205.3 293.3,209.3 293.7,211.3C294.1,213.3 294.5,214.8 295.0,217.3C295.5,219.8 296.0,223.3 296.5,226.3C297.0,229.3 297.5,234.6 298.0,235.3C298.5,236.0 299.0,232.0 299.5,230.3C300.0,228.6 300.2,227.5 301.0,225.3C301.8,223.1 302.8,217.6 304.0,217.3C305.2,217.0 306.7,221.8 308.0,223.3C309.3,224.8 310.5,224.8 312.0,226.3C313.5,227.8 315.3,231.6 317.0,232.3C318.7,233.0 320.5,231.5 322.0,230.3C323.5,229.1 325.0,227.1 326.0,225.3C327.0,223.5 327.3,221.3 328.0,219.3C328.7,217.3 329.4,213.5 330.0,213.3C330.6,213.1 331.0,216.6 331.5,218.3C332.0,220.0 332.5,221.3 333.0,223.3C333.5,225.3 334.0,228.0 334.5,230.3C335.0,232.6 335.5,237.0 336.0,237.3C336.5,237.6 337.0,234.0 337.5,232.3C338.0,230.6 338.2,229.0 339.0,227.3C339.8,225.6 340.8,222.0 342.0,222.3C343.2,222.6 344.5,227.6 346.0,229.3C347.5,231.0 349.3,231.1 351.0,232.3C352.7,233.5 354.5,236.0 356.0,236.3C357.5,236.6 358.3,235.8 360.0,234.3C361.7,232.8 364.5,227.6 366.0,227.3C367.5,227.0 367.8,230.3 369.0,232.3C370.2,234.3 371.8,239.0 373.0,239.3C374.2,239.6 375.0,235.8 376.0,234.3C377.0,232.8 377.7,230.0 379.0,230.3C380.3,230.6 382.2,235.0 384.0,236.3C385.8,237.6 388.0,237.6 390.0,238.3C392.0,239.0 394.0,240.5 396.0,240.3C398.0,240.1 400.3,238.1 402.0,237.3C403.7,236.5 404.5,234.5 406.0,235.3C407.5,236.1 409.0,242.0 411.0,242.3C413.0,242.6 415.8,237.5 418.0,237.3C420.2,237.1 422.2,240.6 424.0,241.3C425.8,242.1 427.3,241.6 429.0,241.8C430.7,242.0 431.8,242.4 434.0,242.3C436.2,242.2 439.3,241.1 442.0,241.3C444.7,241.5 447.7,243.3 450.0,243.3C452.3,243.3 453.7,241.3 456.0,241.3C458.3,241.3 461.0,243.0 464.0,243.3C467.0,243.6 470.6,243.3 473.9,243.4C477.2,243.4 480.5,243.4 483.8,243.4C487.1,243.4 490.4,243.5 493.7,243.5C497.0,243.5 500.3,243.5 503.6,243.5C506.9,243.6 510.2,243.6 513.5,243.6C516.8,243.6 520.1,243.6 523.4,243.7C526.7,243.7 530.0,243.7 533.3,243.7C536.6,243.7 539.9,243.8 543.2,243.8C546.5,243.8 549.8,243.8 553.1,243.8C556.4,243.9 561.4,243.9 563.0,243.9" fill="none" stroke="#000" stroke-width="3.3" stroke-linejoin="round" stroke-linecap="round"/>
<path d="M111.0,235.3C111.5,234.5 113.0,232.0 114.0,230.3C115.0,228.6 116.0,227.0 117.0,225.3C118.0,223.6 119.0,222.0 120.0,220.3C121.0,218.6 122.0,215.2 123.0,215.3C124.0,215.4 125.0,219.0 126.0,220.8C127.0,222.6 128.0,226.4 129.0,226.3C130.0,226.2 131.0,222.3 132.0,220.3C133.0,218.3 134.1,216.1 135.0,214.3C135.9,212.6 136.7,211.3 137.5,209.8C138.3,208.3 139.2,204.7 140.0,205.3C140.8,205.9 141.6,210.9 142.3,213.6C143.1,216.4 143.9,219.2 144.7,222.0C145.4,224.7 145.8,229.9 147.0,230.3C148.2,230.7 150.7,224.1 152.0,224.3C153.3,224.5 154.0,231.5 155.0,231.3C156.0,231.1 157.0,226.0 158.0,223.3C159.0,220.6 160.2,215.4 161.0,215.3C161.8,215.2 162.3,220.2 163.0,222.6C163.7,225.1 164.3,227.5 165.0,230.0C165.7,232.4 166.1,237.6 167.0,237.3C167.9,237.0 169.3,231.3 170.5,228.3C171.7,225.3 173.0,221.8 174.0,219.3C175.0,216.8 175.7,215.3 176.5,213.3C177.3,211.3 178.1,207.3 179.0,207.3C179.9,207.3 181.0,211.3 182.0,213.3C183.0,215.3 184.2,217.0 185.0,219.3C185.8,221.6 186.3,224.6 187.0,227.3C187.7,230.0 188.4,232.9 189.0,235.3C189.6,237.7 190.0,239.6 190.5,241.8C191.0,244.0 191.4,248.5 192.0,248.3C192.6,248.1 193.3,243.2 194.0,240.6C194.7,238.1 195.3,235.5 196.0,233.0C196.7,230.4 197.2,225.6 198.0,225.3C198.8,225.0 199.7,229.3 200.5,231.3C201.3,233.3 201.4,237.5 203.0,237.3C204.6,237.1 208.2,232.3 210.0,230.3C211.8,228.3 212.3,227.0 213.5,225.3C214.7,223.6 216.0,219.9 217.0,220.3C218.0,220.7 218.7,225.3 219.5,227.8C220.3,230.3 220.9,232.6 222.0,235.3C223.1,238.1 224.9,241.8 226.0,244.3C227.1,246.8 227.7,248.3 228.5,250.3C229.3,252.3 229.8,256.6 231.0,256.3C232.2,256.0 234.5,248.8 236.0,248.3C237.5,247.8 238.3,253.0 240.0,253.3C241.7,253.6 243.5,251.3 246.0,250.3C248.5,249.3 252.7,246.6 255.0,247.3C257.3,248.0 258.2,252.0 260.0,254.3C261.8,256.6 264.3,260.0 266.0,261.3C267.7,262.6 268.5,262.5 270.0,262.3C271.5,262.1 273.0,260.5 275.0,260.3C277.0,260.1 279.9,261.2 282.0,261.3C284.1,261.4 285.7,261.0 287.5,260.8C289.3,260.6 290.9,259.8 293.0,260.3C295.1,260.8 297.8,262.9 300.0,263.8C302.2,264.7 303.7,265.4 306.0,265.8C308.3,266.2 311.3,265.9 314.0,266.0C316.7,266.0 319.3,266.1 322.0,266.1C324.7,266.2 327.0,266.3 330.0,266.3C333.0,266.3 336.5,266.3 339.7,266.3C342.9,266.3 346.2,266.3 349.4,266.3C352.7,266.3 355.9,266.3 359.1,266.3C362.4,266.3 365.6,266.3 368.8,266.3C372.1,266.3 375.3,266.3 378.5,266.3C381.8,266.3 385.0,266.3 388.2,266.3C391.5,266.3 394.7,266.3 398.0,266.3C401.2,266.3 404.4,266.3 407.7,266.3C410.9,266.3 414.1,266.3 417.4,266.3C420.6,266.3 423.8,266.3 427.1,266.3C430.3,266.3 433.6,266.3 436.8,266.3C440.0,266.3 443.3,266.3 446.5,266.3C449.7,266.3 453.0,266.3 456.2,266.3C459.4,266.3 462.7,266.3 465.9,266.3C469.2,266.3 472.4,266.3 475.6,266.3C478.9,266.3 482.1,266.3 485.3,266.3C488.6,266.3 491.8,266.3 495.0,266.3C498.3,266.3 501.5,266.3 504.8,266.3C508.0,266.3 511.2,266.3 514.5,266.3C517.7,266.3 520.9,266.3 524.2,266.3C527.4,266.3 530.6,266.3 533.9,266.3C537.1,266.3 540.3,266.3 543.6,266.3C546.8,266.3 550.1,266.3 553.3,266.3C556.5,266.3 561.4,266.3 563.0,266.3" fill="none" stroke="#000" stroke-width="3.3" stroke-linejoin="round" stroke-linecap="round"/>
<path d="M111.0,323.6C111.6,322.8 113.3,320.3 114.5,318.6C115.7,316.9 116.6,315.3 118.0,313.6C119.4,311.9 121.2,308.1 123.0,308.6C124.8,309.1 127.2,316.6 129.0,316.6C130.8,316.6 132.5,310.6 134.0,308.6C135.5,306.6 137.0,306.7 138.0,304.6C139.0,302.5 139.2,298.9 139.8,296.1C140.4,293.3 141.1,287.7 141.6,287.6C142.1,287.5 142.4,292.9 142.8,295.6C143.2,298.3 143.6,300.7 144.0,303.6C144.4,306.5 145.0,309.9 145.5,313.1C146.0,316.3 146.5,322.1 147.0,322.6C147.5,323.1 148.0,318.3 148.5,316.1C149.0,313.9 149.5,311.6 150.0,309.6C150.5,307.6 151.0,305.9 151.5,304.1C152.0,302.3 152.2,299.2 153.0,298.6C153.8,298.0 154.8,300.9 156.0,300.6C157.2,300.3 158.8,296.4 160.0,296.6C161.2,296.8 161.8,299.4 163.0,301.6C164.2,303.8 165.7,309.6 167.0,309.6C168.3,309.6 169.8,303.6 171.0,301.6C172.2,299.6 173.2,299.8 174.0,297.6C174.8,295.4 175.0,291.6 175.5,288.6C176.0,285.6 176.4,282.6 177.0,279.6C177.6,276.6 178.5,270.9 179.0,270.6C179.5,270.4 179.7,275.6 180.0,278.1C180.3,280.6 180.7,283.1 181.0,285.6C181.3,288.1 181.5,290.8 181.8,293.4C182.0,295.9 182.2,298.5 182.5,301.1C182.8,303.7 183.0,306.3 183.2,308.9C183.5,311.4 183.6,316.6 184.0,316.6C184.4,316.6 185.0,311.6 185.5,309.1C186.0,306.6 186.5,303.9 187.0,301.6C187.5,299.3 188.0,297.3 188.5,295.1C189.0,292.9 189.2,288.5 190.0,288.6C190.8,288.7 191.8,293.4 193.0,295.6C194.2,297.8 195.7,300.3 197.0,301.6C198.3,302.9 200.1,302.4 201.0,303.6C201.9,304.8 202.0,306.9 202.5,308.6C203.0,310.3 202.9,313.6 204.0,313.6C205.1,313.6 207.5,310.9 209.0,308.6C210.5,306.3 212.0,302.3 213.0,299.6C214.0,296.9 214.3,294.9 215.0,292.6C215.7,290.3 216.4,285.4 217.0,285.6C217.6,285.8 218.0,290.9 218.5,293.6C219.0,296.3 219.6,298.8 220.0,301.6C220.4,304.4 220.7,307.6 221.0,310.6C221.3,313.6 221.6,318.9 222.0,319.6C222.4,320.3 223.0,316.3 223.5,314.6C224.0,312.9 224.4,311.4 225.0,309.6C225.6,307.9 226.3,305.9 227.0,304.1C227.7,302.3 228.0,298.0 229.0,298.6C230.0,299.2 231.5,305.1 233.0,307.6C234.5,310.1 236.5,311.6 238.0,313.6C239.5,315.6 240.7,318.9 242.0,319.6C243.3,320.3 244.7,319.3 246.0,317.6C247.3,315.9 248.7,311.9 250.0,309.6C251.3,307.3 253.1,303.8 254.0,303.6C254.9,303.4 255.0,306.9 255.5,308.6C256.0,310.3 256.5,311.9 257.0,313.6C257.5,315.3 258.0,316.9 258.5,318.6C259.0,320.3 259.2,324.1 260.0,323.6C260.8,323.1 262.0,317.6 263.0,315.6C264.0,313.6 264.8,311.3 266.0,311.6C267.2,311.9 268.7,316.1 270.0,317.6C271.3,319.1 272.5,319.8 274.0,320.6C275.5,321.4 277.5,321.9 279.0,322.6C280.5,323.3 281.5,324.9 283.0,324.6C284.5,324.3 286.5,321.6 288.0,320.6C289.5,319.6 290.8,318.3 292.0,318.6C293.2,318.9 294.0,321.3 295.0,322.6C296.0,323.9 297.0,326.6 298.0,326.6C299.0,326.6 300.0,323.6 301.0,322.6C302.0,321.6 302.7,320.3 304.0,320.6C305.3,320.9 307.3,323.6 309.0,324.6C310.7,325.6 312.2,326.2 314.0,326.6C315.8,327.0 317.7,327.4 320.0,327.2C322.3,327.0 325.7,325.5 328.0,325.6C330.3,325.7 331.7,327.9 334.0,328.0C336.3,328.1 339.8,326.2 342.0,326.0C344.2,325.8 345.3,326.7 347.0,327.0C348.7,327.3 350.2,327.9 352.0,328.0C353.8,328.1 356.0,327.9 358.0,327.8C360.0,327.7 361.7,327.6 364.0,327.6C366.3,327.7 369.3,327.9 372.0,328.1C374.7,328.3 377.1,328.5 380.0,328.6C382.9,328.7 386.4,328.6 389.6,328.6C392.8,328.6 396.1,328.6 399.3,328.6C402.5,328.6 405.7,328.6 408.9,328.6C412.1,328.6 415.3,328.6 418.5,328.6C421.7,328.6 424.9,328.6 428.2,328.7C431.4,328.7 434.6,328.7 437.8,328.7C441.0,328.7 444.2,328.7 447.4,328.7C450.6,328.7 453.8,328.7 457.1,328.7C460.3,328.7 463.5,328.7 466.7,328.7C469.9,328.7 473.1,328.7 476.3,328.7C479.5,328.7 482.7,328.7 485.9,328.7C489.2,328.7 492.4,328.7 495.6,328.7C498.8,328.7 502.0,328.7 505.2,328.7C508.4,328.7 511.6,328.7 514.8,328.7C518.1,328.8 521.3,328.8 524.5,328.8C527.7,328.8 530.9,328.8 534.1,328.8C537.3,328.8 540.5,328.8 543.7,328.8C546.9,328.8 550.2,328.8 553.4,328.8C556.6,328.8 561.4,328.8 563.0,328.8" fill="none" stroke="#000" stroke-width="3.3" stroke-linejoin="round" stroke-linecap="round"/>
</g>
<rect x="139" y="30" width="61.5" height="38" fill="#fff"/>
<text x="167.5" y="59" font-family="Liberation Sans, sans-serif" font-size="33.5" text-anchor="middle">(a)</text>
<g clip-path="url(#cb)">
<polyline points="599.9,435.5 600.9,435.4 601.9,435.3 602.9,435.0 603.9,434.6 604.9,434.1 605.9,433.5 606.9,432.7 607.9,431.8 608.9,430.7 609.9,429.6 610.9,428.2 611.9,426.7 612.9,425.0 613.9,423.1 614.9,421.1 615.9,418.9 616.9,416.5 617.9,413.9 618.9,411.1 619.9,408.2 620.9,405.1 621.9,401.9 622.8,398.5 623.8,394.9 624.8,391.3 625.8,387.5 626.8,383.6 627.8,379.7 628.8,375.7 629.8,371.6 630.8,367.5 631.8,363.4 632.8,359.3 633.8,355.2 634.8,351.1 635.8,347.0 636.8,343.0 637.8,339.0 638.8,335.1 639.8,331.2 640.8,327.4 641.8,323.6 642.8,319.9 643.8,316.3 644.8,312.7 645.8,309.2 646.8,305.7 647.8,302.3 648.8,298.9 649.8,295.6 650.8,292.3 651.8,289.0 652.8,285.8 653.8,282.6 654.8,279.5 655.8,276.4 656.8,273.3 657.8,270.3 658.8,267.4 659.8,264.5 660.8,261.6 661.8,258.8 662.8,256.1 663.8,253.5 664.8,251.0 665.8,248.5 666.8,246.2 667.7,244.0 668.7,241.9 669.7,239.9 670.7,238.0 671.7,236.3 672.7,234.7 673.7,233.2 674.7,231.8 675.7,230.6 676.7,229.4 677.7,228.4 678.7,227.6 679.7,226.8 680.7,226.1 681.7,225.5 682.7,225.0 683.7,224.6 684.7,224.2 685.7,224.0 686.7,223.8 687.7,223.6 688.7,223.5 689.7,223.5" fill="none" stroke="#000" stroke-width="3.3" stroke-linejoin="round"/>
<polyline points="599.9,359.7 600.9,359.7 601.9,359.5 602.9,359.3 603.9,359.0 604.9,358.6 605.9,358.1 606.9,357.6 607.9,356.9 608.9,356.3 609.9,355.5 610.9,354.8 611.9,353.9 612.9,353.1 613.9,352.2 614.9,351.3 615.9,350.4 616.9,349.4 617.9,348.4 618.9,347.5 619.9,346.5 620.9,345.4 621.9,344.4 622.8,343.4 623.8,342.3 624.8,341.2 625.8,340.0 626.8,338.9 627.8,337.6 628.8,336.4 629.8,335.1 630.8,333.7 631.8,332.2 632.8,330.7 633.8,329.2 634.8,327.5 635.8,325.8 636.8,324.0 637.8,322.1 638.8,320.2 639.8,318.2 640.8,316.2 641.8,314.1 642.8,311.9 643.8,309.7 644.8,307.5 645.8,305.2 646.8,302.9 647.8,300.6 648.8,298.3 649.8,296.0 650.8,293.7 651.8,291.3 652.8,289.0 653.8,286.7 654.8,284.5 655.8,282.2 656.8,279.9 657.8,277.7 658.8,275.5 659.8,273.3 660.8,271.1 661.8,268.9 662.8,266.7 663.8,264.5 664.8,262.3 665.8,260.2 666.8,258.0 667.7,255.8 668.7,253.7 669.7,251.5 670.7,249.4 671.7,247.3 672.7,245.2 673.7,243.2 674.7,241.1 675.7,239.2 676.7,237.3 677.7,235.5 678.7,233.7 679.7,232.1 680.7,230.6 681.7,229.2 682.7,227.9 683.7,226.8 684.7,225.8 685.7,225.0 686.7,224.3 687.7,223.9 688.7,223.6 689.7,223.5" fill="none" stroke="#000" stroke-width="3.3" stroke-linejoin="round"/>
</g>
<text x="643" y="59" font-family="Liberation Sans, sans-serif" font-size="33.5" text-anchor="middle">(b)</text>
<rect x="111.1" y="11.2" width="450.79999999999995" height="450.7" fill="none" stroke="#000" stroke-width="3.8"/>
<rect x="599.9" y="11.2" width="89.80000000000007" height="450.7" fill="none" stroke="#000" stroke-width="3.8"/>
<path d="M111.1,462.42h8.3M561.9,462.42h-8.3M599.9,462.42h8.3M689.7,462.42h-8.3M111.1,435.90h16.5M561.9,435.90h-16.5M599.9,435.90h16.5M689.7,435.90h-16.5M111.1,409.38h8.3M561.9,409.38h-8.3M599.9,409.38h8.3M689.7,409.38h-8.3M111.1,382.85h8.3M561.9,382.85h-8.3M599.9,382.85h8.3M689.7,382.85h-8.3M111.1,356.32h8.3M561.9,356.32h-8.3M599.9,356.32h8.3M689.7,356.32h-8.3M111.1,329.80h16.5M561.9,329.80h-16.5M599.9,329.80h16.5M689.7,329.80h-16.5M111.1,303.27h8.3M561.9,303.27h-8.3M599.9,303.27h8.3M689.7,303.27h-8.3M111.1,276.75h8.3M561.9,276.75h-8.3M599.9,276.75h8.3M689.7,276.75h-8.3M111.1,250.22h8.3M561.9,250.22h-8.3M599.9,250.22h8.3M689.7,250.22h-8.3M111.1,223.70h16.5M561.9,223.70h-16.5M599.9,223.70h16.5M689.7,223.70h-16.5M111.1,197.17h8.3M561.9,197.17h-8.3M599.9,197.17h8.3M689.7,197.17h-8.3M111.1,170.65h8.3M561.9,170.65h-8.3M599.9,170.65h8.3M689.7,170.65h-8.3M111.1,144.12h8.3M561.9,144.12h-8.3M599.9,144.12h8.3M689.7,144.12h-8.3M111.1,117.60h16.5M561.9,117.60h-16.5M599.9,117.60h16.5M689.7,117.60h-16.5M111.1,91.07h8.3M561.9,91.07h-8.3M599.9,91.07h8.3M689.7,91.07h-8.3M111.1,64.55h8.3M561.9,64.55h-8.3M599.9,64.55h8.3M689.7,64.55h-8.3M111.1,38.02h8.3M561.9,38.02h-8.3M599.9,38.02h8.3M689.7,38.02h-8.3M111.1,11.50h16.5M561.9,11.50h-16.5M599.9,11.50h16.5M689.7,11.50h-16.5M111.20,461.9v-16.5M111.20,11.2v16.5M129.97,461.9v-8.3M129.97,11.2v8.3M148.75,461.9v-8.3M148.75,11.2v8.3M167.53,461.9v-8.3M167.53,11.2v8.3M186.30,461.9v-16.5M186.30,11.2v16.5M205.07,461.9v-8.3M205.07,11.2v8.3M223.85,461.9v-8.3M223.85,11.2v8.3M242.62,461.9v-8.3M242.62,11.2v8.3M261.40,461.9v-16.5M261.40,11.2v16.5M280.18,461.9v-8.3M280.18,11.2v8.3M298.95,461.9v-8.3M298.95,11.2v8.3M317.72,461.9v-8.3M317.72,11.2v8.3M336.50,461.9v-16.5M336.50,11.2v16.5M355.27,461.9v-8.3M355.27,11.2v8.3M374.05,461.9v-8.3M374.05,11.2v8.3M392.82,461.9v-8.3M392.82,11.2v8.3M411.60,461.9v-16.5M411.60,11.2v16.5M430.37,461.9v-8.3M430.37,11.2v8.3M449.15,461.9v-8.3M449.15,11.2v8.3M467.92,461.9v-8.3M467.92,11.2v8.3M486.70,461.9v-16.5M486.70,11.2v16.5M505.47,461.9v-8.3M505.47,11.2v8.3M524.25,461.9v-8.3M524.25,11.2v8.3M543.02,461.9v-8.3M543.02,11.2v8.3M561.80,461.9v-16.5M561.80,11.2v16.5" stroke="#000" stroke-width="3" fill="none"/>
<line x1="111.1" y1="435.9" x2="689.7" y2="435.9" stroke="#ff0000" stroke-width="2.8" stroke-dasharray="8.4,4.12"/>
<line x1="111.1" y1="223.69999999999996" x2="689.7" y2="223.69999999999996" stroke="#ff0000" stroke-width="2.8" stroke-dasharray="8.4,4.12"/>
<text x="97.5" y="447.9" font-family="Liberation Serif, serif" stroke="#000" stroke-width="0.45" font-size="35" text-anchor="end">0.0</text>
<text x="97.5" y="341.8" font-family="Liberation Serif, serif" stroke="#000" stroke-width="0.45" font-size="35" text-anchor="end">0.2</text>
<text x="97.5" y="235.7" font-family="Liberation Serif, serif" stroke="#000" stroke-width="0.45" font-size="35" text-anchor="end">0.4</text>
<text x="97.5" y="129.6" font-family="Liberation Serif, serif" stroke="#000" stroke-width="0.45" font-size="35" text-anchor="end">0.6</text>
<text x="97.5" y="23.5" font-family="Liberation Serif, serif" stroke="#000" stroke-width="0.45" font-size="35" text-anchor="end">0.8</text>
<text x="111.2" y="500" font-family="Liberation Serif, serif" stroke="#000" stroke-width="0.45" font-size="36" text-anchor="middle">0</text>
<text x="186.3" y="500" font-family="Liberation Serif, serif" stroke="#000" stroke-width="0.45" font-size="36" text-anchor="middle">1</text>
<text x="261.4" y="500" font-family="Liberation Serif, serif" stroke="#000" stroke-width="0.45" font-size="36" text-anchor="middle">2</text>
<text x="336.5" y="500" font-family="Liberation Serif, serif" stroke="#000" stroke-width="0.45" font-size="36" text-anchor="middle">3</text>
<text x="411.6" y="500" font-family="Liberation Serif, serif" stroke="#000" stroke-width="0.45" font-size="36" text-anchor="middle">4</text>
<text x="486.7" y="500" font-family="Liberation Serif, serif" stroke="#000" stroke-width="0.45" font-size="36" text-anchor="middle">5</text>
<text x="561.8" y="500" font-family="Liberation Serif, serif" stroke="#000" stroke-width="0.45" font-size="36" text-anchor="middle">6</text>
<text x="599.4" y="500" font-family="Liberation Serif, serif" stroke="#000" stroke-width="0.45" font-size="36" text-anchor="middle">M</text>
<text x="689.7" y="500" font-family="Liberation Serif, serif" stroke="#000" stroke-width="0.45" font-size="36" text-anchor="middle">L</text>
<text x="336" y="555" font-family="Liberation Serif, serif" stroke="#000" stroke-width="0.45" font-size="42" text-anchor="middle"><tspan font-style="italic">z</tspan> (nm)</text>
<text transform="translate(28,237.5) rotate(-90)" font-family="Liberation Serif, serif" stroke="#000" stroke-width="0.45" font-size="42" text-anchor="middle">Energy (eV)</text>
</svg></body></html>
